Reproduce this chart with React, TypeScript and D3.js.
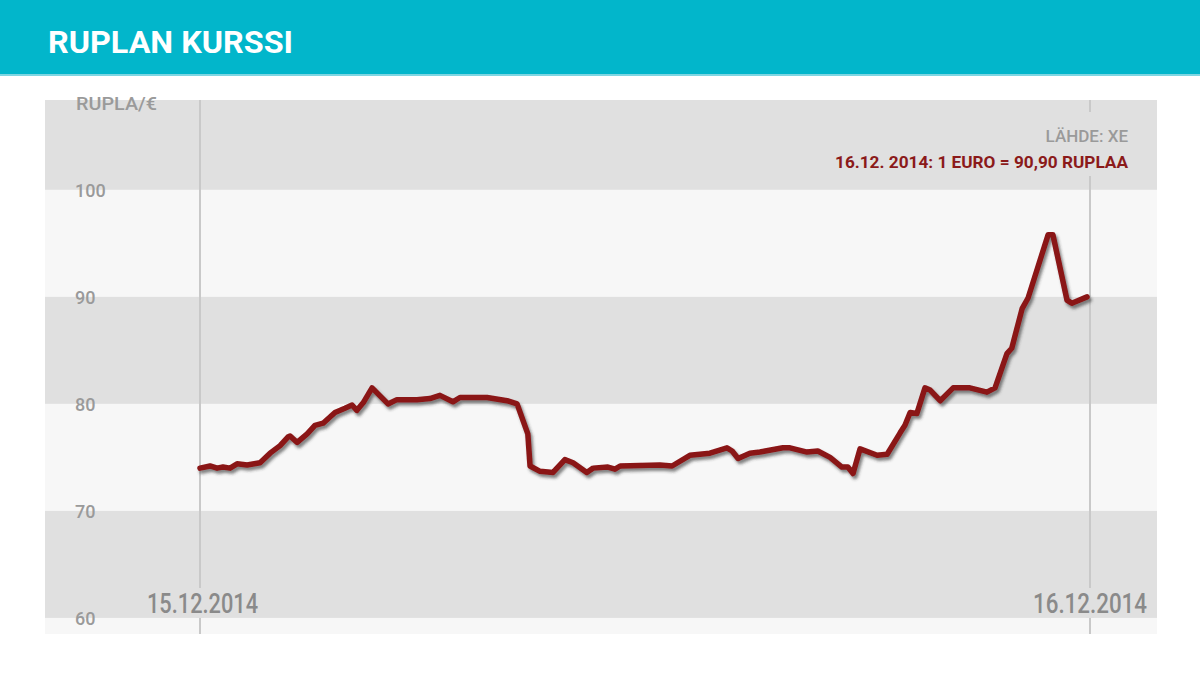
import * as d3 from "d3";

// hours since 15.12.2014 00:00
const hours = [
  0, 0.27, 0.46, 0.62, 0.81, 1.0, 1.27, 1.62, 1.89, 2.16, 2.37, 2.43, 2.62, 2.89, 3.1, 3.32,
  3.64, 3.91, 4.1, 4.23, 4.4, 4.64, 5.07, 5.31, 5.85, 6.2, 6.47, 6.82, 7.01, 7.74, 8.28,
  8.55, 8.84, 8.9, 9.17, 9.52, 9.84, 10.06, 10.43, 10.6, 11.0, 11.19, 11.33, 12.4, 12.73,
  13.21, 13.75, 14.21, 14.35, 14.51, 14.83, 15.1, 15.72, 15.91, 16.37, 16.66, 16.99, 17.31,
  17.47, 17.61, 17.8, 18.26, 18.53, 18.88, 19.01, 19.15, 19.33, 19.55, 19.69, 19.96, 20.31,
  20.76, 21.22, 21.44, 21.76, 21.89, 22.17, 22.33, 22.87, 23.0, 23.38, 23.51, 23.92,
];
// rupla / euro
const rates = [
  74.0, 74.2, 74.0, 74.1, 74.0, 74.4, 74.3, 74.5, 75.4, 76.1, 76.9, 77.0, 76.4, 77.2, 78.0, 78.2,
  79.2, 79.6, 79.9, 79.4, 80.1, 81.5, 80.0, 80.4, 80.4, 80.5, 80.8, 80.2, 80.6, 80.6, 80.3,
  80.0, 77.2, 74.2, 73.7, 73.6, 74.8, 74.5, 73.6, 74.0, 74.1, 73.9, 74.2, 74.3, 74.2,
  75.2, 75.4, 75.9, 75.6, 74.9, 75.4, 75.5, 75.9, 75.9, 75.5, 75.6, 75.0, 74.1,
  74.1, 73.5, 75.8, 75.2, 75.3, 77.3, 78.0, 79.2, 79.1, 81.5, 81.3, 80.3, 81.5,
  81.5, 81.1, 81.5, 84.7, 85.2, 88.9, 89.9, 95.8, 95.8, 89.7, 89.4, 90.0,
];
const yTicks = [60, 70, 80, 90, 100];
const bands = [
  { from: 100, to: 108.4, dark: true },
  { from: 90, to: 100, dark: false },
  { from: 80, to: 90, dark: true },
  { from: 70, to: 80, dark: false },
  { from: 60, to: 70, dark: true },
  { from: 58.5, to: 60, dark: false },
];
const startLabel = "15.12.2014";
const endLabel = "16.12.2014";

const W = 1200;
const H = 675;
const left = 45;
const right = 1157;
const top = 100;
const bottom = 634;

export default function App() {
  const x = d3.scaleLinear().domain([0, 24]).range([200, 1090]);
  const y = d3.scaleLinear().domain([58.5, 108.4]).range([bottom, top]);

  const data = hours.map((h, i) => ({ h, v: rates[i] }));
  const line = d3
    .line<{ h: number; v: number }>()
    .x((d) => x(d.h))
    .y((d) => y(d.v));

  const font = "Roboto, 'Noto Sans', sans-serif";

  return (
    <svg
      width={W}
      height={H}
      style={{ display: "block", position: "absolute", left: 0, top: 0 }}
    >
      <defs>
        <filter id="shadow" x="-5%" y="-20%" width="110%" height="140%">
          <feDropShadow dx="2" dy="3" stdDeviation="1.8" floodColor="#333" floodOpacity="0.6" />
        </filter>
      </defs>
      <rect width={W} height={H} fill="#fff" />
      {/* header */}
      <rect x={0} y={0} width={W} height={75} fill="#02b6cb" />
      <rect x={0} y={74} width={W} height={2} fill="#7fd6e2" />
      <text
        x={48}
        y={53}
        fill="#fff"
        fontFamily={font}
        fontWeight={700}
        fontSize={31}
        textLength={245}
        lengthAdjust="spacingAndGlyphs"
      >
        RUPLAN KURSSI
      </text>

      {/* bands */}
      {bands.map((b, i) => (
        <rect
          key={i}
          x={left}
          width={right - left}
          y={y(b.to)}
          height={y(b.from) - y(b.to)}
          fill={b.dark ? "#e0e0e0" : "#f7f7f7"}
        />
      ))}

      {/* time markers */}
      {[0, 24].map((h) => (
        <line
          key={h}
          x1={x(h)}
          x2={x(h)}
          y1={top}
          y2={bottom}
          stroke="#c9c9c9"
          strokeWidth={2}
        />
      ))}
      {/* label backgrounds hiding the marker lines */}
      <rect x={x(0) - 4} y={588} width={8} height={y(60) - 588} fill="#e0e0e0" />
      <rect x={x(24) - 4} y={588} width={8} height={y(60) - 588} fill="#e0e0e0" />
      <rect x={x(24) - 4} y={112} width={8} height={64} fill="#e0e0e0" />

      {/* y ticks */}
      {yTicks.map((t) => (
        <text
          key={t}
          x={75}
          y={y(t) + 7}
          fill="#9a9a9a"
          fontFamily={font}
          fontWeight={500}
          fontSize={18}
        >
          {t}
        </text>
      ))}
      <text
        x={76}
        y={110}
        fill="#9a9a9a"
        fontFamily={font}
        fontWeight={500}
        fontSize={18}
        textLength={81}
        lengthAdjust="spacingAndGlyphs"
      >
        RUPLA/€
      </text>

      {/* source + annotation */}
      <text
        x={1128}
        y={142}
        textAnchor="end"
        fill="#9a9a9a"
        fontFamily={font}
        fontWeight={500}
        fontSize={17}
      >
        LÄHDE: XE
      </text>
      <text
        x={1128}
        y={168}
        textAnchor="end"
        fill="#8b1a1a"
        fontFamily={font}
        fontWeight={700}
        fontSize={17}
        textLength={293}
        lengthAdjust="spacingAndGlyphs"
      >
        16.12. 2014: 1 EURO = 90,90 RUPLAA
      </text>

      {/* date labels */}
      <text
        x={147}
        y={613}
        fill="#8a8a8a"
        fontFamily={font}
        fontWeight={500}
        fontSize={27}
        textLength={111}
        lengthAdjust="spacingAndGlyphs"
      >
        {startLabel}
      </text>
      <text
        x={1147}
        y={613}
        textAnchor="end"
        fill="#8a8a8a"
        fontFamily={font}
        fontWeight={500}
        fontSize={27}
        textLength={114}
        lengthAdjust="spacingAndGlyphs"
      >
        {endLabel}
      </text>

      {/* rate line */}
      <path
        d={line(data) || ""}
        fill="none"
        stroke="#8a1416"
        strokeWidth={5.5}
        strokeLinejoin="round"
        strokeLinecap="round"
        filter="url(#shadow)"
      />
    </svg>
  );
}
